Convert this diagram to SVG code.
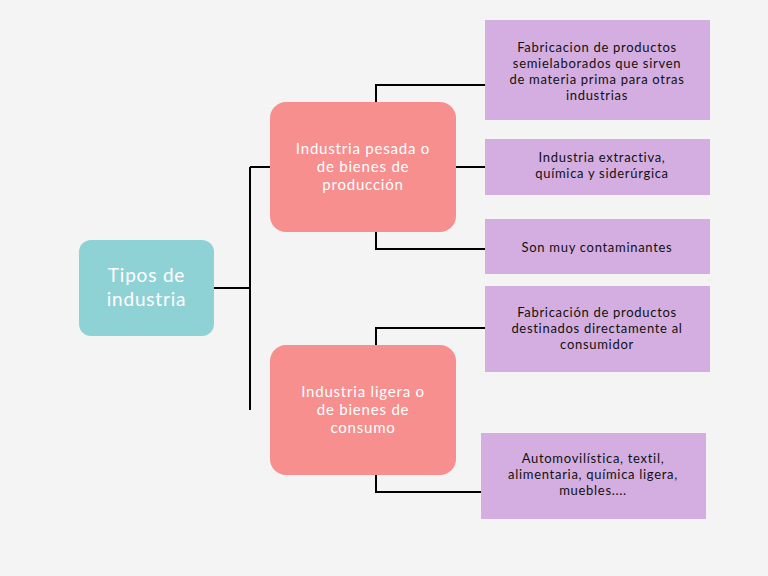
<svg xmlns="http://www.w3.org/2000/svg" width="768" height="576" viewBox="0 0 768 576">
<style>
.c{fill:none;stroke:#000;stroke-width:2}
.p{fill:#f68f8e}
.v{fill:#d4aee0}
.tw{font-family:"Lato","Liberation Sans",sans-serif;fill:#fff;text-anchor:middle;letter-spacing:0.8px}
.tb{font-family:"Lato","Liberation Sans",sans-serif;fill:#111;font-size:13px;text-anchor:middle;letter-spacing:0.7px}
</style>
<rect width="768" height="576" fill="#f4f4f4"/>
<g id="connectors">
<path class="c" d="M214 288H250M250 167V410M250 167H270"/>
<path class="c" d="M376 102V85H485M456 167H485M376 232V249H485"/>
<path class="c" d="M376 345V328H485M376 475V492H481"/>
</g>
<g id="root"><rect x="79" y="240" width="135" height="96" rx="12" fill="#8fd2d6"/>
<text class="tw" font-size="19" x="146.5" y="282">Tipos de</text><text class="tw" font-size="19" x="146.5" y="306">industria</text></g>
<g id="heavy"><rect class="p" x="270" y="102" width="186" height="130" rx="16"/>
<text class="tw" font-size="15" x="363" y="154">Industria pesada o</text><text class="tw" font-size="15" x="363" y="172">de bienes de</text><text class="tw" font-size="15" x="363" y="190">producción</text></g>
<g id="light"><rect class="p" x="270" y="345" width="186" height="130" rx="16"/>
<text class="tw" font-size="15" x="363" y="397">Industria ligera o</text><text class="tw" font-size="15" x="363" y="415">de bienes de</text><text class="tw" font-size="15" x="363" y="433">consumo</text></g>
<g id="n1"><rect class="v" x="485" y="20" width="225" height="100"/>
<text class="tb" x="597" y="52">Fabricacion de productos</text><text class="tb" x="597" y="68">semielaborados que sirven</text><text class="tb" x="597" y="84">de materia prima para otras</text><text class="tb" x="597" y="100">industrias</text></g>
<g id="n2"><rect class="v" x="485" y="139" width="225" height="56"/>
<text class="tb" x="602" y="162">Industria extractiva,</text><text class="tb" x="602" y="178">química y siderúrgica</text></g>
<g id="n3"><rect class="v" x="485" y="219" width="225" height="55"/>
<text class="tb" x="597" y="252">Son muy contaminantes</text></g>
<g id="n4"><rect class="v" x="485" y="286" width="225" height="86"/>
<text class="tb" x="597" y="317">Fabricación de productos</text><text class="tb" x="597" y="333">destinados directamente al</text><text class="tb" x="597" y="349">consumidor</text></g>
<g id="n5"><rect class="v" x="481" y="433" width="225" height="86"/>
<text class="tb" x="593" y="463">Automovilística, textil,</text><text class="tb" x="593" y="479">alimentaria, química ligera,</text><text class="tb" x="593" y="495">muebles....</text></g>
</svg>
